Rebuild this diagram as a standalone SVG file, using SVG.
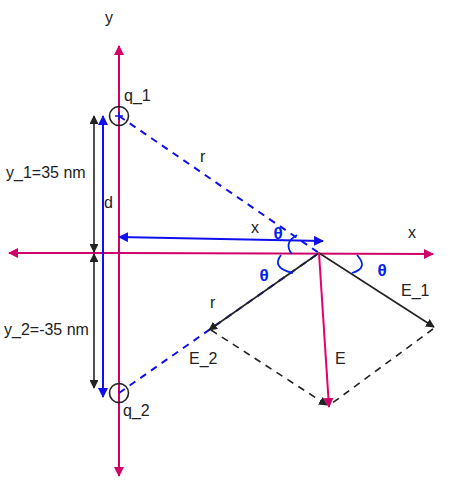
<svg xmlns="http://www.w3.org/2000/svg" width="450" height="500" viewBox="0 0 450 500">
<style>
text{font-family:"Liberation Sans",Arial,sans-serif;font-size:16px;fill:#222}
.th{fill:#0022ee;font-size:17px;font-weight:bold;text-anchor:middle}
.ax{stroke:#d10068;stroke-width:2;fill:none}
.bl{stroke:#1010ee;stroke-width:2;fill:none}
.bd{stroke:#1010ee;stroke-width:2;fill:none;stroke-dasharray:7 6}
.k{stroke:#222;stroke-width:1.6;fill:none}
.kd{stroke:#222;stroke-width:1.6;fill:none;stroke-dasharray:7 6}
.arc{stroke:#0022ee;stroke-width:1.8;fill:none}
</style>
<defs>
<marker id="ap" viewBox="0 0 10 10" refX="9" refY="5" markerWidth="5" markerHeight="5" orient="auto-start-reverse"><path d="M0,0 L10,5 L0,10 z" fill="#d10068"/></marker>
<marker id="ab" viewBox="0 0 10 10" refX="9" refY="5" markerWidth="5" markerHeight="5" orient="auto-start-reverse"><path d="M0,0 L10,5 L0,10 z" fill="#1010ee"/></marker>
<marker id="ak" viewBox="0 0 10 10" refX="9" refY="5" markerWidth="5.5" markerHeight="5.5" orient="auto-start-reverse"><path d="M0,0 L10,5 L0,10 z" fill="#222"/></marker>
</defs>
<g id="connectors">
<line id="y-axis" class="ax" x1="119" y1="476" x2="119" y2="46" marker-end="url(#ap)"/>
<line id="x-axis-left" class="ax" x1="119" y1="253" x2="9" y2="253" marker-end="url(#ap)"/>
<line id="x-axis-right" class="ax" x1="119" y1="253" x2="433" y2="254" marker-end="url(#ap)"/>
<line x1="119" y1="253" x2="119" y2="476" class="ax" marker-end="url(#ap)"/>
<line id="y1-dim" class="k" x1="94" y1="252" x2="94" y2="116" marker-start="url(#ak)" marker-end="url(#ak)"/>
<line id="y2-dim" class="k" x1="94" y1="254" x2="94" y2="388" marker-start="url(#ak)" marker-end="url(#ak)"/>
<line id="d-dim" class="bl" x1="103" y1="116" x2="103" y2="397" marker-start="url(#ab)" marker-end="url(#ab)"/>
<line id="x-dim" class="bl" x1="119" y1="237" x2="323" y2="241" marker-start="url(#ab)" marker-end="url(#ab)"/>
<line id="r1" class="bd" x1="119" y1="116" x2="319" y2="253"/>
<line id="r2" class="bd" x1="119" y1="393" x2="319" y2="253"/>
<line id="E1" class="k" x1="319" y1="253" x2="434" y2="327" marker-end="url(#ak)"/>
<line id="E2" class="k" x1="319" y1="253" x2="209" y2="330" marker-end="url(#ak)"/>
<line id="E2-par" class="kd" x1="211" y1="330" x2="327" y2="405" marker-end="url(#ak)"/>
<line id="E1-par" class="kd" x1="433" y1="329" x2="331" y2="404"/>
<line id="E" x1="319" y1="253" x2="329" y2="407" stroke="#e3006e" stroke-width="2" marker-end="url(#ap)"/>
<path class="arc" d="M297 235 Q283 243 292 254"/>
<path class="arc" d="M281 255 Q271 268 293 273"/>
<path class="arc" d="M357 255 Q369 268 352 273"/>
</g>
<g id="q1"><circle cx="119" cy="116" r="9.5" fill="none" stroke="#222" stroke-width="1.6"/><path d="M115 116 H123 M119 112 V120" stroke="#1010ee" stroke-width="1.5"/><text x="124" y="101">q_1</text></g>
<g id="q2"><circle cx="119" cy="393" r="9.5" fill="none" stroke="#222" stroke-width="1.6"/><text x="123" y="416">q_2</text></g>
<g id="labels">
<text x="105" y="23">y</text>
<text x="408" y="238">x</text>
<text x="251" y="233">x</text>
<text x="200" y="162">r</text>
<text x="210" y="308">r</text>
<text x="401" y="296">E_1</text>
<text x="189" y="364">E_2</text>
<text x="335" y="364">E</text>
<text x="104" y="208">d</text>
<text x="6" y="178">y_1=35 nm</text>
<text x="4" y="335">y_2=-35 nm</text>
<text class="th" x="278" y="239">θ</text>
<text class="th" x="264" y="281">θ</text>
<text class="th" x="382" y="276">θ</text>
</g>
</svg>
